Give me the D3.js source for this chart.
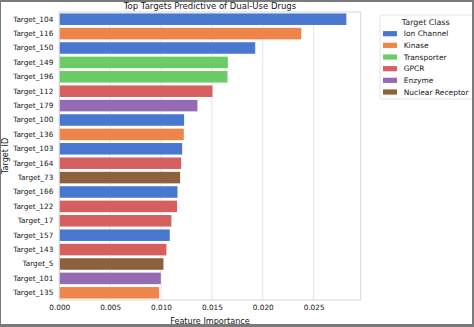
<!DOCTYPE html>
<html><head><meta charset="utf-8">
<script src="https://cdn.jsdelivr.net/npm/d3@7"></script>
<style>
html,body{margin:0;padding:0;background:#fff;}
svg{display:block;font-family:"DejaVu Sans",sans-serif;}
</style></head>
<body>
<script>
const targets = ["Target_104","Target_116","Target_150","Target_149","Target_196","Target_112","Target_179","Target_100","Target_136","Target_103","Target_164","Target_73","Target_166","Target_122","Target_17","Target_157","Target_143","Target_5","Target_101","Target_135"];
const importance = [0.02822,0.02379,0.01926,0.01657,0.01654,0.01506,0.01358,0.01227,0.01224,0.01208,0.01198,0.01188,0.01162,0.01158,0.01102,0.01086,0.01053,0.01024,0.00998,0.00981];
const targetClass = ["Ion Channel","Kinase","Ion Channel","Transporter","Transporter","GPCR","Enzyme","Ion Channel","Kinase","Ion Channel","GPCR","Nuclear Receptor","Ion Channel","GPCR","GPCR","Ion Channel","GPCR","Nuclear Receptor","Enzyme","Kinase"];
const classes = ["Ion Channel","Kinase","Transporter","GPCR","Enzyme","Nuclear Receptor"];
const classColors = ["#4878d0","#ee854a","#6acc64","#d65f5f","#956cb4","#8c613c"];
const xTicks = [0,0.005,0.010,0.015,0.020,0.025];

const W = 474, H = 327;
const m = {left:59.3, right:360.7, top:12, bottom:300};
const svg = d3.select("body").append("svg").attr("width",W).attr("height",H);
svg.append("rect").attr("width",W).attr("height",H).attr("fill","#fff");

const xMax = d3.max(importance)*1.05;
const x = d3.scaleLinear().domain([0,xMax]).range([m.left,m.right]);
const y = d3.scaleBand().domain(targets).range([m.top,m.bottom]).padding(0.2).paddingOuter(0.1);
const color = d3.scaleOrdinal().domain(classes).range(classColors);
const txt = "#161616";

// grid
svg.append("g").selectAll("line").data(xTicks).join("line")
  .attr("x1",d=>x(d)).attr("x2",d=>x(d)).attr("y1",m.top).attr("y2",m.bottom)
  .attr("stroke","#e4e4e4").attr("stroke-width",1);

// bars
svg.append("g").selectAll("rect").data(targets).join("rect")
  .attr("x",x(0)).attr("y",d=>y(d))
  .attr("width",(d,i)=>x(importance[i])-x(0))
  .attr("height",y.bandwidth())
  .attr("fill",(d,i)=>color(targetClass[i]));

// spines
svg.append("rect").attr("x",m.left).attr("y",m.top).attr("width",m.right-m.left).attr("height",m.bottom-m.top)
  .attr("fill","none").attr("stroke","#d6d6d6").attr("stroke-width",1);

// x axis
const xAxis = d3.axisBottom(x).tickValues(xTicks).tickFormat(d3.format(".3f")).tickSize(0).tickPadding(5);
const gx = svg.append("g").attr("transform",`translate(0,${m.bottom})`).call(xAxis);
gx.select(".domain").remove();
gx.selectAll("text").attr("font-size","7.3px").attr("fill",txt).attr("font-family","DejaVu Sans");

// y axis
const yAxis = d3.axisLeft(y).tickSize(0).tickPadding(6);
const gy = svg.append("g").attr("transform",`translate(${m.left},0)`).call(yAxis);
gy.select(".domain").remove();
gy.selectAll("text").attr("font-size","7.3px").attr("fill",txt).attr("font-family","DejaVu Sans");

// labels
svg.append("text").attr("x",(m.left+m.right)/2).attr("y",9).attr("text-anchor","middle")
  .attr("font-size","8.5px").attr("fill",txt).text("Top Targets Predictive of Dual-Use Drugs");
svg.append("text").attr("x",(m.left+m.right)/2).attr("y",323.5).attr("text-anchor","middle")
  .attr("font-size","8.1px").attr("fill",txt).text("Feature Importance");
svg.append("text").attr("transform",`translate(7.5,${(m.top+m.bottom)/2}) rotate(-90)`).attr("text-anchor","middle")
  .attr("font-size","8.1px").attr("fill",txt).text("Target ID");

// legend
const lg = svg.append("g");
lg.append("rect").attr("x",380).attr("y",15).attr("width",100).attr("height",84).attr("rx",2)
  .attr("fill","#fff").attr("stroke","#dcdcdc").attr("stroke-width",0.8);
lg.append("text").attr("x",425.7).attr("y",25).attr("text-anchor","middle").attr("font-size","7.9px").attr("fill",txt).text("Target Class");
const items = lg.selectAll("g.item").data(classes).join("g").attr("class","item")
  .attr("transform",(d,i)=>`translate(0,${33.7+i*11.66})`);
items.append("rect").attr("x",383).attr("y",-2.6).attr("width",14).attr("height",5.2).attr("fill",d=>color(d));
items.append("text").attr("x",403.7).attr("y",2.7).attr("font-size","7.5px").attr("fill",txt).text(d=>d);

// outer frame
svg.append("rect").attr("x",0).attr("y",0).attr("width",1).attr("height",H).attr("fill","#7a7a7a");
svg.append("rect").attr("x",0).attr("y",0).attr("width",W).attr("height",2).attr("fill","#7a7a7a");
svg.append("rect").attr("x",472).attr("y",0).attr("width",2).attr("height",H).attr("fill","#7a7a7a");
svg.append("rect").attr("x",0).attr("y",324).attr("width",W).attr("height",3).attr("fill","#7a7a7a");
</script>
</body></html>
